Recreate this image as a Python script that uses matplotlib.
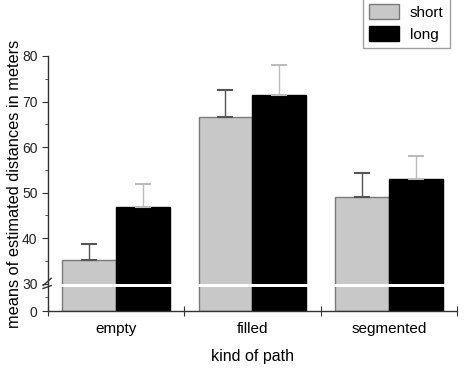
import matplotlib.pyplot as plt
import numpy as np
from matplotlib.ticker import FixedLocator

plt.rcParams["font.family"] = ["Liberation Sans", "DejaVu Sans"]

paths = ["empty", "filled", "segmented"]
short_means = [35.3, 66.7, 49.1]
short_err = [3.5, 5.8, 5.3]
long_means = [46.8, 71.4, 53.1]
long_err = [5.1, 6.7, 5.0]
y_ticks = [0, 30, 40, 50, 60, 70, 80]
y_minor = [15, 35, 45, 55, 65, 75]

# compressed part below 30 (broken axis)
K = 0.2


def fwd(v):
    v = np.asarray(v, dtype=float)
    return np.where(v >= 30, v, 30 - (30 - v) * K)


def inv(t):
    t = np.asarray(t, dtype=float)
    return np.where(t >= 30, t, 30 - (30 - t) / K)


fig = plt.figure(figsize=(4.74, 3.73), dpi=100)
ax = fig.add_axes([0.101, 0.166, 0.863, 0.684])
ax.set_yscale("function", functions=(fwd, inv))

x = np.arange(len(paths))
w = 0.395
ax.bar(x + 0.5 - w / 2, short_means, w, color="#c8c8c8", edgecolor="#7a7a7a",
       linewidth=1, zorder=2, label="short")
ax.bar(x + 0.5 + w / 2, long_means, w, color="black", edgecolor="black",
       linewidth=1, zorder=2, label="long")
ax.errorbar(x + 0.5 - w / 2, short_means, yerr=[np.zeros(3), short_err],
            fmt="none", ecolor="#555555", elinewidth=1, capsize=6, capthick=1.5, zorder=3)
ax.errorbar(x + 0.5 + w / 2, long_means, yerr=[np.zeros(3), long_err],
            fmt="none", ecolor="#bbbbbb", elinewidth=1, capsize=6, capthick=1.5, zorder=3)

# white gap for the axis break
ax.axhspan(26, 29.4, color="white", zorder=2.2, lw=0)

ax.set_xlim(0, 3)
ax.set_ylim(0, 80)
ax.yaxis.set_major_locator(FixedLocator(y_ticks))
ax.yaxis.set_minor_locator(FixedLocator(y_minor))
ax.set_yticklabels([str(t) for t in y_ticks])
ax.xaxis.set_major_locator(FixedLocator([0, 1, 2, 3]))
ax.set_xticklabels([])
ax.xaxis.set_minor_locator(FixedLocator(x + 0.5))
ax.set_xticklabels(paths, minor=True, fontsize=11)
ax.tick_params(axis="x", which="major", direction="inout", length=7, color="#333333")
ax.tick_params(axis="x", which="minor", length=0, pad=8)
ax.tick_params(axis="y", which="major", direction="out", length=4, color="#333333",
               labelsize=10, labelcolor="#222222")
ax.tick_params(axis="y", which="minor", direction="out", length=2.5, color="#333333")

for s in ["top", "right"]:
    ax.spines[s].set_visible(False)
for s in ["left", "bottom"]:
    ax.spines[s].set_color("#333333")
    ax.spines[s].set_linewidth(1)

# break marks on the y axis
for yb in [29.6, 26.4]:
    ax.plot([-0.035, 0.025], [yb - 1.6, yb + 1.6], color="#333333", lw=1,
            clip_on=False, zorder=4)

ax.set_ylabel("means of estimated distances in meters", fontsize=11.8)
ax.yaxis.set_label_coords(-0.064, 0.5)
ax.set_xlabel("kind of path", fontsize=11.5, labelpad=9)

leg = fig.legend(loc="upper right", bbox_to_anchor=(0.965, 1.025), fontsize=11,
                 frameon=True, fancybox=False, edgecolor="#888888",
                 handlelength=2.0, handleheight=1.1, handletextpad=0.7,
                 borderpad=0.4, labelspacing=0.4)
leg.get_frame().set_linewidth(1)

fig.savefig("out.png", dpi=100)
